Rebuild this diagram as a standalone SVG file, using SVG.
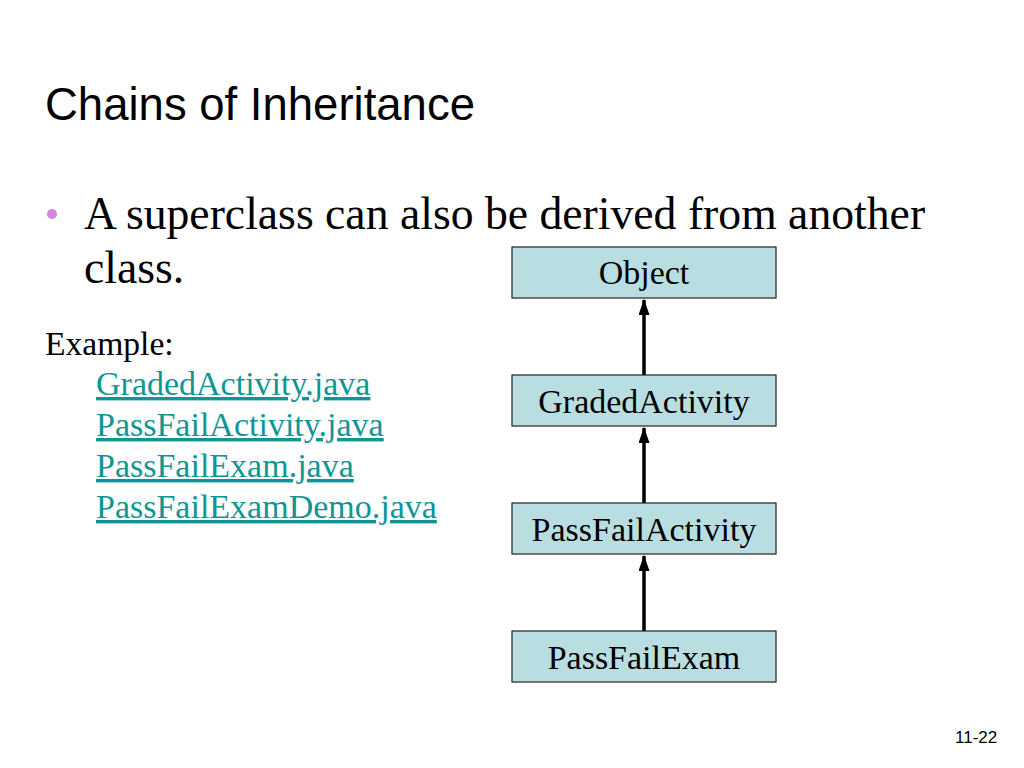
<svg xmlns="http://www.w3.org/2000/svg" width="1024" height="768" viewBox="0 0 1024 768">
<defs>
<marker id="arr" markerWidth="16" markerHeight="11" refX="15" refY="5.5" orient="auto" markerUnits="userSpaceOnUse" viewBox="0 0 16 11">
<path d="M0,0 L16,5.5 L0,11 Z" fill="#000"/>
</marker>
</defs>
<style>
.title{font-family:"Liberation Sans",Arial,sans-serif;font-size:45.5px;fill:#000}
.body{font-family:"Liberation Serif","Times New Roman",serif;fill:#000}
.link{font-family:"Liberation Serif","Times New Roman",serif;font-size:34px;fill:#0E9696;text-decoration:underline}
.box{fill:#B9DEE2;stroke:#222;stroke-width:1.2}
.lbl{font-family:"Liberation Serif","Times New Roman",serif;font-size:34px;fill:#000;text-anchor:middle}
.conn{stroke:#000;stroke-width:3.5;fill:none}
.foot{font-family:"Liberation Sans",Arial,sans-serif;font-size:17px;fill:#000}
</style>
<rect width="1024" height="768" fill="#fff"/>
<text class="title" x="45" y="120">Chains of Inheritance</text>
<circle cx="52" cy="214" r="5" fill="#D585E0"/>
<text class="body" x="84" y="229" font-size="45.7">A superclass can also be derived from another</text>
<text class="body" x="84" y="283" font-size="45.7">class.</text>
<text class="body" x="45" y="355" font-size="33.6">Example:</text>
<text class="link" x="96" y="395">GradedActivity.java</text>
<text class="link" x="96" y="436">PassFailActivity.java</text>
<text class="link" x="96" y="477">PassFailExam.java</text>
<text class="link" x="96" y="518">PassFailExamDemo.java</text>
<g id="connectors">
<line class="conn" x1="644" y1="375" x2="644" y2="300" marker-end="url(#arr)"/>
<line class="conn" x1="644" y1="503" x2="644" y2="428" marker-end="url(#arr)"/>
<line class="conn" x1="644" y1="631" x2="644" y2="556" marker-end="url(#arr)"/>
</g>
<g id="node-object">
<rect class="box" x="512" y="247" width="264" height="51"/>
<text class="lbl" x="644" y="284">Object</text>
</g>
<g id="node-gradedactivity">
<rect class="box" x="512" y="375" width="264" height="51"/>
<text class="lbl" x="644" y="413">GradedActivity</text>
</g>
<g id="node-passfailactivity">
<rect class="box" x="512" y="503" width="264" height="51"/>
<text class="lbl" x="644" y="541">PassFailActivity</text>
</g>
<g id="node-passfailexam">
<rect class="box" x="512" y="631" width="264" height="51"/>
<text class="lbl" x="644" y="669">PassFailExam</text>
</g>
<text class="foot" x="955" y="743">11-22</text>
</svg>
